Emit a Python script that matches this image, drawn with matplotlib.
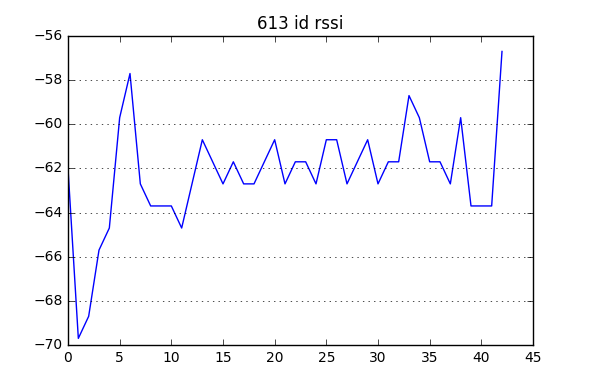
import matplotlib
matplotlib.use('Agg')
import matplotlib.pyplot as plt

# rssi readings per sample index
rssi = [-62.0, -69.7, -68.7, -65.7, -64.7, -59.7, -57.7, -62.7, -63.7, -63.7,
        -63.7, -64.7, -62.7, -60.7, -61.7, -62.7, -61.7, -62.7, -62.7, -61.7,
        -60.7, -62.7, -61.7, -61.7, -62.7, -60.7, -60.7, -62.7, -61.7, -60.7,
        -62.7, -61.7, -61.7, -58.7, -59.7, -61.7, -61.7, -62.7, -59.7, -63.7,
        -63.7, -63.7, -56.7]
idx = list(range(len(rssi)))

plt.style.use('classic')
plt.rcParams['font.size'] = 10
fig = plt.figure(figsize=(6.01, 3.8), dpi=100)
ax = fig.add_axes([68 / 601, 1 - 345 / 380, (533 - 68) / 601, (345 - 36) / 380])
ax.plot(idx, rssi, color='b')
ax.set_xlim(0, 45)
ax.set_ylim(-70, -56)
ax.yaxis.grid(True)
ax.set_title('613 id rssi', fontsize=12)
fig.savefig('out.png', dpi=100)
